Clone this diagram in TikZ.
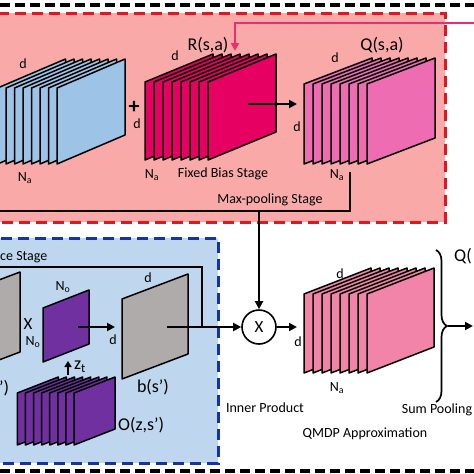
\documentclass[tikz,border=0pt]{standalone}
\usepackage{fontspec}
\setmainfont{Carlito}
\usetikzlibrary{arrows.meta,decorations.pathreplacing}

\definecolor{redstage}{RGB}{249,170,168}
\definecolor{reddash}{RGB}{230,20,30}
\definecolor{bluestage}{RGB}{190,215,238}
\definecolor{bluedash}{RGB}{20,50,170}
\definecolor{featblue}{RGB}{157,195,230}
\definecolor{biasred}{RGB}{230,0,98}
\definecolor{qpink}{RGB}{238,108,178}
\definecolor{qmdppink}{RGB}{242,132,170}
\definecolor{obspurple}{RGB}{112,48,160}
\definecolor{beliefgray}{RGB}{175,171,171}
\definecolor{feedpink}{RGB}{236,46,110}

\tikzset{
  lbl/.style={font=\fontsize{14}{16}\selectfont, inner sep=0pt},
  biglbl/.style={font=\fontsize{18}{20}\selectfont, inner sep=0pt},
  flow/.style={line width=2.2pt, -{Triangle[length=8pt,width=8pt]}},
  wire/.style={line width=2.2pt},
  sheet/.style={draw=black, line width=1.5pt, line join=round},
  frame/.style={line width=3.5pt, dash pattern=on 10pt off 5pt},
  stagebox/.style={line width=3pt, dash pattern=on 11pt off 6pt},
}

% front bottom-left x, y, width, height, rise, count, step, colour
\newcommand{\sheetstack}[8]{%
  \foreach \idx in {#6,...,1}{
    \filldraw[sheet, fill=#8] ({#1-(\idx-1)*#7},#2) -- ++(#3,-#5) -- ++(0,-#4) -- ++(-#3,#5) -- cycle;
  }%
}

\begin{document}
\begin{tikzpicture}[x=1pt, y=-1pt]
  \useasboundingbox (0,0) rectangle (474,474);
  % stage boxes
  \filldraw[stagebox, fill=redstage, draw=reddash] (-10,13) rectangle (445,222);
  \filldraw[stagebox, fill=bluestage, draw=bluedash] (-10,238) rectangle (218,463);
  \coordinate (ftl) at (0,5);   \coordinate (ftr) at (474,5);
  \coordinate (fbl) at (0,471); \coordinate (fbr) at (474,471);
  \draw[frame] (ftl) -- (ftr);
  \draw[frame] (fbl) -- (fbr);

  % value / reward stage
  \sheetstack{57}{164}{68}{76}{29}{8}{8.5}{featblue}
  \sheetstack{208}{160}{68}{78}{28}{8}{9}{biasred}
  \sheetstack{367}{164}{68}{80}{26}{8}{9}{qpink}
  \node[lbl] (d1) at (23,64) {d};
  \node[lbl] (na1) at (25,178) {N\textsubscript{a}};
  \node[font=\fontsize{22}{22}\selectfont\bfseries, inner sep=0pt] (plus) at (134,107) {+};
  \node[lbl] (d2) at (137,124) {d};
  \node[lbl] (d3) at (175,56) {d};
  \node[biglbl] (reward) at (208,45) {R(s,a)};
  \node[lbl] (na2) at (152,175) {N\textsubscript{a}};
  \node[lbl] (bias) at (223,174) {Fixed Bias Stage};
  \node[lbl] (d4) at (335,58) {d};
  \node[biglbl] (qval) at (382,45) {Q(s,a)};
  \node[lbl] (d5) at (297,127) {d};
  \node[lbl] (na3) at (337,175) {N\textsubscript{a}};
  \node[lbl] (maxpool) at (270,200) {Max-pooling Stage};
  \coordinate (biasout) at (248,104);
  \coordinate (qin) at (297,104);
  \draw[flow] (biasout) -- (qin);
  \coordinate (feedin) at (474,23);
  \coordinate (feedturn) at (235,23);
  \coordinate (feedend) at (235,51);
  \draw[flow, feedpink, line width=2pt] (feedin) -- (feedturn) -- (feedend);

  % belief stage
  \sheetstack{-46}{377}{66}{80}{25}{1}{0}{beliefgray}
  \sheetstack{43}{362}{46}{54}{18}{1}{0}{obspurple}
  \sheetstack{122}{379}{66}{80}{25}{1}{0}{beliefgray}
  \sheetstack{74}{445}{41}{52}{16}{8}{8.1}{obspurple}
  \node[lbl, anchor=west] (belstage) at (0,257) {ce Stage};
  \node[lbl, font=\fontsize{17}{17}\selectfont] (times) at (28,324) {X};
  \node[lbl] (no1) at (33,342) {N\textsubscript{o}};
  \node[lbl] (no2) at (63,287) {N\textsubscript{o}};
  \node[lbl] (d6) at (113,340) {d};
  \node[lbl] (d7) at (148,278) {d};
  \node[biglbl, anchor=west] (prevb) at (-1,388) {’)};
  \node[biglbl] (belief) at (153,387) {b(s’)};
  \node[biglbl, anchor=west] (obs) at (118,425) {O(z,s’)};
  \node[biglbl] (zt) at (80,367) {z\textsubscript{t}};
  \coordinate (ztin) at (68,375);
  \coordinate (ztout) at (68,361);
  \draw[flow, line width=2pt, -{Triangle[length=6pt,width=7pt]}] (ztin) -- (ztout);
  \coordinate (obsout) at (78,327);
  \coordinate (belin) at (115,327);
  \draw[flow] (obsout) -- (belin);

  % QMDP approximation
  \node[draw, circle, line width=1.6pt, fill=white, minimum size=34pt, inner sep=0pt, font=\fontsize{17}{17}\selectfont] (prod) at (259,327) {X};
  \sheetstack{367}{373}{67}{79}{26}{8}{9}{qmdppink}
  \node[lbl] (d8) at (298,342) {d};
  \node[lbl] (d9) at (340,274) {d};
  \node[lbl] (na4) at (337,388) {N\textsubscript{a}};
  \node[lbl] (inner) at (265,408) {Inner Product};
  \node[lbl] (sumpool) at (437,410) {Sum Pooling};
  \node[lbl] (qmdp) at (365,434) {QMDP Approximation};
  \node[biglbl, anchor=west] (qout) at (454,256) {Q(};

  % connectors
  \coordinate (poolin) at (0,211);
  \coordinate (poolbend) at (350,211);
  \coordinate (poolup) at (350,172);
  \coordinate (pooldown) at (259,211);
  \draw[wire] (poolin) -- (poolbend) -- (poolup);
  \draw[flow] (pooldown) -- (prod.north);
  \coordinate (belout) at (167,327);
  \coordinate (previn) at (0,267);
  \coordinate (prevbend) at (202,267);
  \coordinate (prevjoin) at (202,327);
  \draw[wire] (previn) -- (prevbend) -- (prevjoin);
  \draw[flow] (belout) -- (prod.west);
  \coordinate (qmdpin) at (297,327);
  \draw[flow] (prod.east) -- (qmdpin);
  \coordinate (bracetop) at (436,250);
  \coordinate (bracebot) at (436,402);
  \draw[line width=1.7pt, decorate, decoration={brace, amplitude=11pt}] (bracetop) -- (bracebot);
  \coordinate (sumout) at (448,326);
  \coordinate (sumend) at (473,326);
  \draw[flow] (sumout) -- (sumend);
\end{tikzpicture}
\end{document}
